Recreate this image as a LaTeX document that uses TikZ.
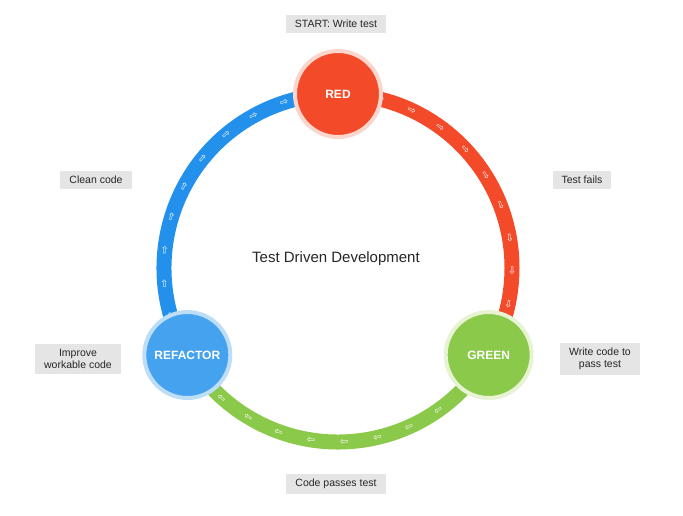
\documentclass[tikz,border=0pt]{standalone}
\usepackage{fontspec}
\setmainfont{Liberation Sans}
\newfontfamily\symf{DejaVu Sans}
\definecolor{cred}{HTML}{F34A29}
\definecolor{cgreen}{HTML}{8BC94A}
\definecolor{cblue}{HTML}{2391EC}
\definecolor{hred}{HTML}{FBD6CD}
\definecolor{hgreen}{HTML}{E8F3D4}
\definecolor{hblue}{HTML}{BEDDF7}
\definecolor{lbl}{HTML}{E5E5E5}
\tikzset{x=1pt,y=1pt,
 lab/.style={fill=lbl,font=\fontsize{10.5}{12.5}\selectfont,align=center,inner xsep=9pt,inner ysep=5pt,text=black!85},
 phase/.style={circle,minimum size=86pt,line width=4pt,text=white,font=\bfseries\fontsize{12}{14}\selectfont},
 ar/.style={text=white,font=\symf\fontsize{10}{10}\selectfont,inner sep=0pt}}
\begin{document}
\begin{tikzpicture}
\useasboundingbox (0,0) rectangle (683,516);
\coordinate (c) at (338,248);
\def\R{174}
\draw[cred,line width=15pt] ([shift={(90:\R)}]c) arc (90:-30:\R);
\draw[cgreen,line width=15pt] ([shift={(-30:\R)}]c) arc (-30:-150:\R);
\draw[cblue,line width=15pt] ([shift={(210:\R)}]c) arc (210:90:\R);
\foreach \a in {76,65,54,43,32,21,10,-1,-12} \node[ar,rotate=\a-90] at ([shift={(\a:\R)}]c) {⇨};
\foreach \a in {-44,-55,-66,-77,-88,-99,-110,-121,-132} \node[ar,rotate=\a-90] at ([shift={(\a:\R)}]c) {⇨};
\foreach \a in {196,185,174,163,152,141,130,119,108} \node[ar,rotate=\a-90] at ([shift={(\a:\R)}]c) {⇨};
\node[phase,fill=cred,draw=hred] (red) at ([shift={(90:\R)}]c) {RED};
\node[phase,fill=cgreen,draw=hgreen] (green) at ([shift={(-30:\R)}]c) {GREEN};
\node[phase,fill=cblue!85!white,draw=hblue] (ref) at ([shift={(210:\R)}]c) {REFACTOR};
\node[font=\fontsize{15}{17}\selectfont,text=black!85] (title) at (336,257) {Test Driven Development};
\node[lab] (l1) at (336,492) {START: Write test};
\node[lab] (l2) at (582,336) {Test fails};
\node[lab] (l3) at (600,157) {Write code to\\pass test};
\node[lab] (l4) at (336,32) {Code passes test};
\node[lab] (l5) at (78,157) {Improve\\workable code};
\node[lab] (l6) at (96,336) {Clean code};
\end{tikzpicture}
\end{document}
